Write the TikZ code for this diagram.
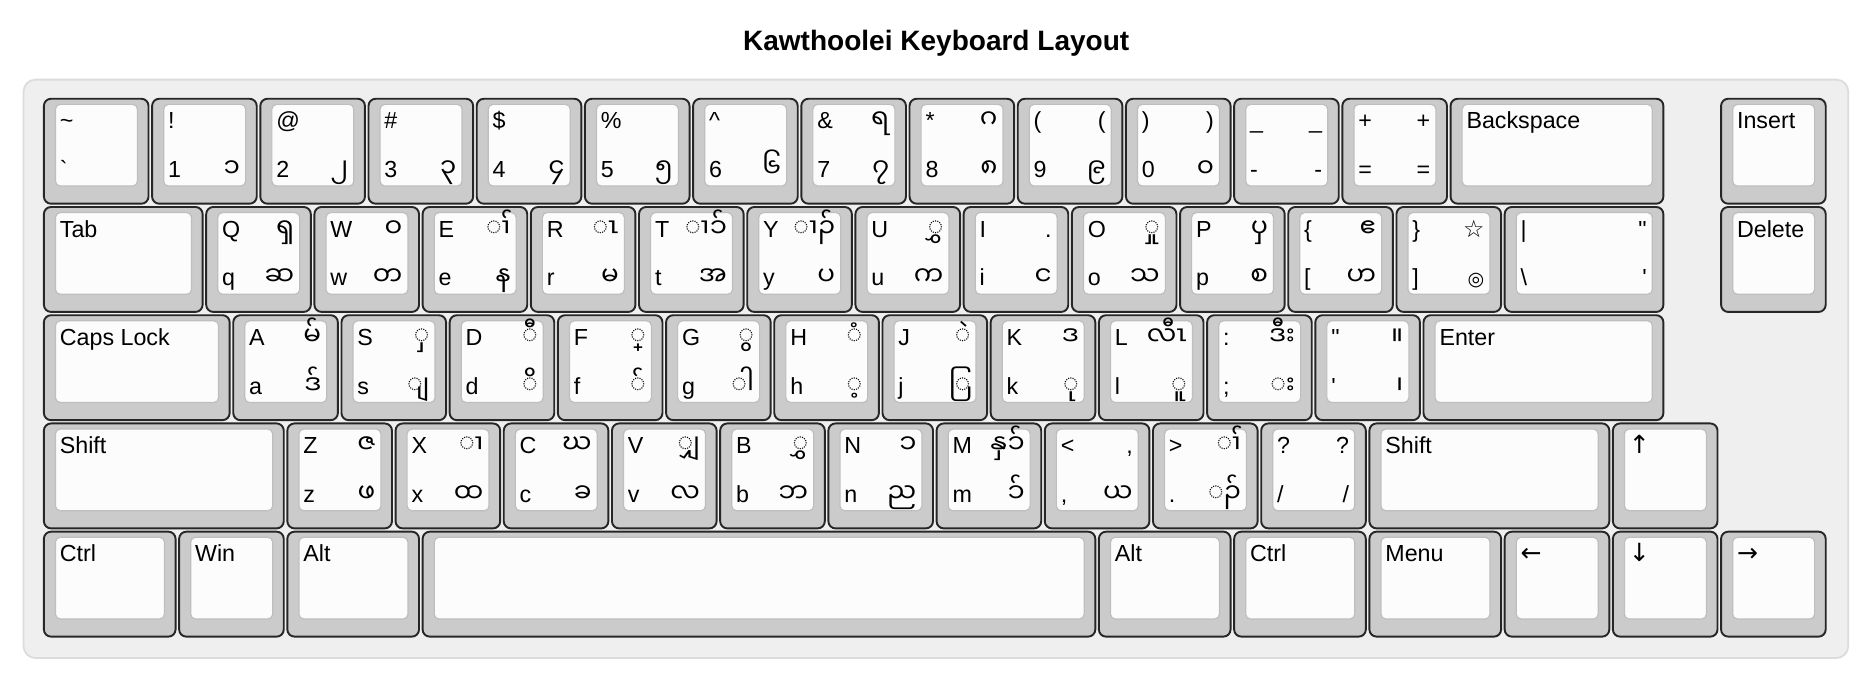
\documentclass[tikz,border=0pt]{standalone}
\usepackage{fontspec}
\setmainfont{Liberation Sans}
\newfontfamily\kar[Script=Myanmar]{Noto Sans Myanmar UI}
\newfontfamily\djv{DejaVu Sans}

\definecolor{keyfill}{HTML}{CBCBCB}
\definecolor{keyedge}{HTML}{262626}
\definecolor{capfill}{HTML}{FCFCFC}
\definecolor{capedge}{HTML}{BEBEBE}
\definecolor{boardfill}{HTML}{EFEFEF}
\definecolor{boardedge}{HTML}{DCDCDC}

\tikzset{
  keyout/.style={draw=keyedge, fill=keyfill, line width=1.6pt, rounded corners=6pt, inner sep=0pt, anchor=north west},
  keyin/.style={draw=capedge, fill=capfill, line width=1pt, rounded corners=4pt, inner sep=0pt, anchor=north west},
  lbl/.style={inner sep=0pt, font=\fontsize{19.5}{22}\selectfont, text=black},
  board/.style={draw=boardedge, fill=boardfill, line width=1.5pt, rounded corners=10pt, inner sep=0pt, anchor=north west},
  titlestyle/.style={inner sep=0pt, font=\bfseries\fontsize{23.5}{26}\selectfont, anchor=base},
}

\newcommand\K[1]{{\kar\fontsize{22}{24}\selectfont #1}}
\newcommand\A[1]{{\djv\fontsize{21}{24}\selectfont #1}}
\newcommand\lab[4]{\if\relax\detokenize{#4}\relax\else\node[lbl,anchor=#2] (#1) at (#3) {#4};\fi}
\newcommand\kkey[8]{%
  \pgfmathsetmacro\kx{36+#2*90.73}%
  \pgfmathsetmacro\ky{82+#3*90.75}%
  \pgfmathsetmacro\kw{#4*90.73-3}%
  \pgfmathsetmacro\kiw{#4*90.73-22}%
  \node[keyout, minimum width=\kw pt, minimum height=88pt] (#1) at (\kx,\ky) {};%
  \node[keyin, minimum width=\kiw pt, minimum height=68.5pt] (#1c) at ({\kx+10},{\ky+5}) {};%
  \lab{#1tl}{base west}{[shift={(4pt,-21pt)}]#1c.north west}{#5}%
  \lab{#1tr}{base east}{[shift={(-5pt,-21pt)}]#1c.north east}{#6}%
  \lab{#1bl}{base west}{[shift={(4pt,-62pt)}]#1c.north west}{#7}%
  \lab{#1br}{base east}{[shift={(-5pt,-62pt)}]#1c.north east}{#8}%
}

\begin{document}
\begin{tikzpicture}[x=1pt,y=-1pt]
\useasboundingbox[fill=white] (0,0) rectangle (1568,582);
\node[titlestyle] (title) at (785,42) {Kawthoolei Keyboard Layout};
\node[board, minimum width=1530pt, minimum height=485pt] (board) at (19,66) {};

% row 1
\kkey{grave}{0}{0}{1}{\textasciitilde}{}{\textasciigrave}{}
\kkey{one}{1}{0}{1}{!}{}{1}{\K{၁}}
\kkey{two}{2}{0}{1}{@}{}{2}{\K{၂}}
\kkey{three}{3}{0}{1}{\#}{}{3}{\K{၃}}
\kkey{four}{4}{0}{1}{\$}{}{4}{\K{၄}}
\kkey{five}{5}{0}{1}{\%}{}{5}{\K{၅}}
\kkey{six}{6}{0}{1}{\textasciicircum}{}{6}{\K{၆}}
\kkey{seven}{7}{0}{1}{\&}{\K{ရ}}{7}{\K{၇}}
\kkey{eight}{8}{0}{1}{*}{\K{ဂ}}{8}{\K{၈}}
\kkey{nine}{9}{0}{1}{(}{(}{9}{\K{၉}}
\kkey{zero}{10}{0}{1}{)}{)}{0}{\K{၀}}
\kkey{minus}{11}{0}{1}{\_}{\_}{-}{-}
\kkey{equal}{12}{0}{1}{+}{+}{=}{=}
\kkey{bksp}{13}{0}{2}{Backspace}{}{}{}
\kkey{ins}{15.5}{0}{1}{Insert}{}{}{}

% row 2
\kkey{tab}{0}{1}{1.5}{Tab}{}{}{}
\kkey{q}{1.5}{1}{1}{Q}{\K{ၡ}}{q}{\K{ဆ}}
\kkey{w}{2.5}{1}{1}{W}{\K{ဝ}}{w}{\K{တ}}
\kkey{e}{3.5}{1}{1}{E}{\K{◌ၢ်}}{e}{\K{န}}
\kkey{r}{4.5}{1}{1}{R}{\K{◌ၤ}}{r}{\K{မ}}
\kkey{t}{5.5}{1}{1}{T}{\K{◌ၢၥ်}}{t}{\K{အ}}
\kkey{y}{6.5}{1}{1}{Y}{\K{◌ၢၣ်}}{y}{\K{ပ}}
\kkey{u}{7.5}{1}{1}{U}{\K{◌ွှ}}{u}{\K{က}}
\kkey{i}{8.5}{1}{1}{I}{.}{i}{\K{င}}
\kkey{o}{9.5}{1}{1}{O}{\K{◌ှု}}{o}{\K{သ}}
\kkey{p}{10.5}{1}{1}{P}{\K{ၦ}}{p}{\K{စ}}
\kkey{lbr}{11.5}{1}{1}{\{}{\K{ဧ}}{[}{\K{ဟ}}
\kkey{rbr}{12.5}{1}{1}{\}}{{\djv\fontsize{20}{22}\selectfont ☆}}{]}{{\djv\fontsize{16}{20}\selectfont ◎}}
\kkey{bsl}{13.5}{1}{1.5}{\textbar}{\textquotedbl}{\textbackslash}{\textquotesingle}
\kkey{del}{15.5}{1}{1}{Delete}{}{}{}

% row 3
\kkey{caps}{0}{2}{1.75}{Caps Lock}{}{}{}
\kkey{a}{1.75}{2}{1}{A}{\K{မ်}}{a}{\K{ဒ်}}
\kkey{s}{2.75}{2}{1}{S}{\K{◌ှ}}{s}{\K{◌ျ}}
\kkey{d}{3.75}{2}{1}{D}{\K{◌ီ}}{d}{\K{◌ိ}}
\kkey{f}{4.75}{2}{1}{F}{\K{◌္}}{f}{\K{◌်}}
\kkey{g}{5.75}{2}{1}{G}{\K{◌ွ}}{g}{\K{◌ါ}}
\kkey{h}{6.75}{2}{1}{H}{\K{◌ံ}}{h}{\K{◌့}}
\kkey{j}{7.75}{2}{1}{J}{\K{◌ဲ}}{j}{\K{◌ြ}}
\kkey{k}{8.75}{2}{1}{K}{\K{ဒ}}{k}{\K{◌ု}}
\kkey{l}{9.75}{2}{1}{L}{\K{လီၤ}}{l}{\K{◌ူ}}
\kkey{semi}{10.75}{2}{1}{:}{\K{ဒီး}}{;}{\K{◌း}}
\kkey{quote}{11.75}{2}{1}{\textquotedbl}{\K{။}}{\textquotesingle}{\K{၊}}
\kkey{enter}{12.75}{2}{2.25}{Enter}{}{}{}

% row 4
\kkey{lshift}{0}{3}{2.25}{Shift}{}{}{}
\kkey{z}{2.25}{3}{1}{Z}{\K{ဇ}}{z}{\K{ဖ}}
\kkey{x}{3.25}{3}{1}{X}{\K{◌ၢ}}{x}{\K{ထ}}
\kkey{c}{4.25}{3}{1}{C}{\K{ဃ}}{c}{\K{ခ}}
\kkey{v}{5.25}{3}{1}{V}{\K{◌ျှ}}{v}{\K{လ}}
\kkey{b}{6.25}{3}{1}{B}{\K{◌ွှ}}{b}{\K{ဘ}}
\kkey{n}{7.25}{3}{1}{N}{\K{ၥ}}{n}{\K{ည}}
\kkey{m}{8.25}{3}{1}{M}{\K{နှၥ်}}{m}{\K{ၥ်}}
\kkey{comma}{9.25}{3}{1}{<}{,}{,}{\K{ယ}}
\kkey{period}{10.25}{3}{1}{>}{\K{◌ၢ်}}{.}{\K{◌ၣ်}}
\kkey{slash}{11.25}{3}{1}{?}{?}{/}{/}
\kkey{rshift}{12.25}{3}{2.25}{Shift}{}{}{}
\kkey{up}{14.5}{3}{1}{\A{↑}}{}{}{}

% row 5
\kkey{lctrl}{0}{4}{1.25}{Ctrl}{}{}{}
\kkey{win}{1.25}{4}{1}{Win}{}{}{}
\kkey{lalt}{2.25}{4}{1.25}{Alt}{}{}{}
\kkey{space}{3.5}{4}{6.25}{}{}{}{}
\kkey{ralt}{9.75}{4}{1.25}{Alt}{}{}{}
\kkey{rctrl}{11}{4}{1.25}{Ctrl}{}{}{}
\kkey{menu}{12.25}{4}{1.25}{Menu}{}{}{}
\kkey{left}{13.5}{4}{1}{\A{←}}{}{}{}
\kkey{down}{14.5}{4}{1}{\A{↓}}{}{}{}
\kkey{right}{15.5}{4}{1}{\A{→}}{}{}{}
\end{tikzpicture}
\end{document}
